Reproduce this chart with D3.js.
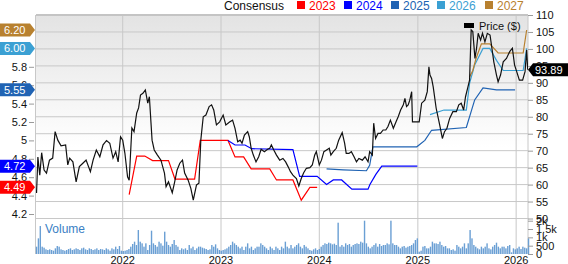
<!DOCTYPE html>
<html>
<head>
<meta charset="utf-8">
<script src="https://cdn.jsdelivr.net/npm/d3@7"></script>
<style>
  body { margin: 0; background: #fff; }
  svg { display: block; font-family: "Liberation Sans", Arial, sans-serif; }
</style>
</head>
<body>
<svg id="chart" width="568" height="264"></svg>
<script>
// ---- data ----
const years = ["2023", "2024", "2025", "2026", "2027"];

const price = [
  ["2021-02-15",57.5],["2021-02-20",68.1],["2021-02-27",62.8],["2021-03-06",69.4],["2021-03-15",64.3],
  ["2021-03-24",63.4],["2021-04-04",67.2],["2021-04-16",67.8],["2021-04-25",75.6],["2021-05-05",73.1],
  ["2021-05-17",71.4],["2021-06-03",71.7],["2021-06-11",65.8],["2021-06-18",67.8],["2021-06-30",66.7],
  ["2021-07-12",60.8],["2021-07-24",65.3],["2021-08-06",66.3],["2021-08-18",67.2],["2021-09-03",63.8],
  ["2021-09-13",67.2],["2021-09-25",70.2],["2021-10-08",68.2],["2021-10-20",71.7],["2021-11-02",73.0],
  ["2021-11-14",72.2],["2021-11-26",67.8],["2021-12-06",69.7],["2021-12-15",66.7],["2021-12-24",74.1],
  ["2022-01-01",73.1],["2022-01-09",69.3],["2022-01-19",62.3],["2022-01-25",61.3],["2022-02-04",76.7],
  ["2022-02-12",75.6],["2022-02-22",81.1],["2022-03-01",82.6],["2022-03-08",86.4],["2022-03-17",86.9],
  ["2022-03-26",87.9],["2022-04-04",84.0],["2022-04-10",85.9],["2022-04-20",73.1],["2022-04-28",70.2],
  ["2022-05-10",68.7],["2022-05-23",67.2],["2022-06-05",63.4],["2022-06-11",59.4],["2022-06-20",60.8],
  ["2022-07-04",57.6],["2022-07-12",60.4],["2022-07-22",64.3],["2022-08-01",66.3],["2022-08-11",67.2],
  ["2022-08-19",63.4],["2022-09-01",61.3],["2022-09-11",58.9],["2022-09-20",55.4],["2022-10-02",59.9],
  ["2022-10-11",60.4],["2022-10-18",73.1],["2022-10-27",80.0],["2022-11-06",80.5],["2022-11-18",83.0],
  ["2022-11-27",83.5],["2022-12-05",82.0],["2022-12-15",77.6],["2022-12-27",78.5],["2023-01-09",80.5],
  ["2023-01-19",77.6],["2023-02-03",78.5],["2023-02-13",79.0],["2023-02-22",76.6],["2023-03-04",72.6],
  ["2023-03-13",73.1],["2023-03-20",72.2],["2023-03-29",74.6],["2023-04-10",75.6],["2023-04-16",74.1],
  ["2023-04-23",70.7],["2023-05-01",68.7],["2023-05-11",66.7],["2023-05-21",68.2],["2023-05-30",70.4],
  ["2023-06-11",69.7],["2023-06-23",70.4],["2023-07-01",70.7],["2023-07-07",71.7],["2023-07-16",70.2],
  ["2023-07-26",68.7],["2023-08-07",67.2],["2023-08-19",67.7],["2023-08-29",66.7],["2023-09-07",65.3],
  ["2023-09-16",63.8],["2023-09-25",62.8],["2023-10-08",61.8],["2023-10-17",59.6],["2023-10-26",61.8],
  ["2023-11-04",63.5],["2023-11-14",64.8],["2023-11-27",65.0],["2023-12-06",65.8],["2023-12-15",68.7],
  ["2023-12-21",69.7],["2024-01-01",65.8],["2024-01-09",67.2],["2024-01-18",69.7],["2024-01-28",70.2],
  ["2024-02-07",70.7],["2024-02-13",68.7],["2024-02-22",69.7],["2024-03-04",70.7],["2024-03-13",73.1],
  ["2024-03-26",75.3],["2024-04-04",72.2],["2024-04-10",69.2],["2024-04-20",69.2],["2024-04-29",69.7],
  ["2024-05-09",68.2],["2024-05-18",66.7],["2024-05-27",67.7],["2024-06-09",67.2],["2024-06-19",68.2],
  ["2024-06-30",66.7],["2024-07-06",69.7],["2024-07-16",68.7],["2024-07-21",78.1],["2024-07-28",73.6],
  ["2024-08-06",75.1],["2024-08-15",75.1],["2024-08-25",76.1],["2024-09-04",76.1],["2024-09-12",77.1],
  ["2024-09-21",79.0],["2024-10-02",76.6],["2024-10-12",78.5],["2024-10-20",80.0],["2024-10-29",82.0],
  ["2024-11-08",83.5],["2024-11-14",85.4],["2024-11-20",83.0],["2024-11-26",83.5],["2024-12-02",84.9],
  ["2024-12-09",87.4],["2024-12-12",78.5],["2024-12-25",78.5],["2025-01-06",78.5],["2025-01-15",84.0],
  ["2025-01-27",84.9],["2025-02-05",87.4],["2025-02-11",94.7],["2025-02-15",92.3],["2025-02-21",91.3],
  ["2025-02-27",88.8],["2025-03-10",82.5],["2025-03-23",77.6],["2025-04-02",73.6],["2025-04-10",75.6],
  ["2025-04-19",76.6],["2025-04-29",79.5],["2025-05-11",81.5],["2025-05-24",81.5],["2025-06-02",83.5],
  ["2025-06-11",84.0],["2025-06-20",82.0],["2025-06-27",85.9],["2025-07-06",88.8],["2025-07-12",90.8],
  ["2025-07-18",105.6],["2025-07-24",105.1],["2025-08-01",97.2],["2025-08-07",100.2],["2025-08-13",104.6],
  ["2025-08-22",102.6],["2025-08-29",104.6],["2025-09-07",102.1],["2025-09-16",104.6],["2025-09-26",104.1],
  ["2025-10-03",100.2],["2025-10-10",96.2],["2025-10-20",92.3],["2025-10-26",90.3],["2025-11-04",92.3],
  ["2025-11-14",96.2],["2025-11-26",97.2],["2025-12-08",99.2],["2025-12-18",100.2],["2025-12-26",95.3],
  ["2026-01-03",93.3],["2026-01-13",90.8],["2026-01-25",90.8],["2026-02-03",93.3],["2026-02-09",99.7],
  ["2026-02-13",93.89]
];

const eps2023 = [
  ["2022-01-25",4.41],["2022-02-22",4.83],["2022-03-24",4.83],["2022-04-22",4.78],["2022-06-20",4.78],
  ["2022-07-14",4.58],["2022-09-25",4.58],["2022-10-16",5.00],["2023-01-27",5.00],["2023-02-22",4.82],
  ["2023-03-26",4.82],["2023-04-23",4.69],["2023-07-01",4.69],["2023-07-26",4.57],["2023-09-25",4.57],
  ["2023-10-26",4.35],["2023-11-27",4.49],["2023-12-24",4.49]
];
const eps2024 = [
  ["2023-01-27",5.00],["2023-02-22",4.95],["2023-03-31",4.95],["2023-04-25",4.91],["2023-09-25",4.90],
  ["2023-10-20",4.61],["2023-12-24",4.61],["2024-01-28",4.52],["2024-02-22",4.57],["2024-03-24",4.57],
  ["2024-05-01",4.47],["2024-06-30",4.47],["2024-07-07",4.52],["2024-07-29",4.63],["2024-08-20",4.72],
  ["2024-12-30",4.72]
];
const eps2025 = [
  ["2024-01-28",4.69],["2024-03-30",4.68],["2024-06-24",4.67],["2024-07-06",4.73],["2024-07-18",4.93],
  ["2024-12-28",4.93],["2025-01-27",5.00],["2025-02-21",5.11],["2025-06-30",5.14],["2025-07-31",5.44],
  ["2025-08-31",5.57],["2025-10-20",5.55],["2025-12-28",5.55]
];
const eps2026 = [
  ["2025-02-15",5.28],["2025-04-08",5.33],["2025-06-30",5.33],["2025-07-12",5.62],["2025-07-31",5.82],
  ["2025-08-31",6.00],["2025-09-25",6.00],["2025-10-20",5.87],["2025-11-14",5.76],["2026-01-27",5.76],
  ["2026-02-09",6.00]
];
const eps2027 = [
  ["2025-07-12",5.69],["2025-07-24",5.76],["2025-08-05",5.89],["2025-08-25",6.05],["2025-09-25",6.05],
  ["2025-10-26",5.95],["2026-01-27",5.95],["2026-02-09",6.20]
];

// weekly volume (k), starting week of 2021-02-15
const volumeStart = "2021-02-15";
const volume = [
  .44,.94,1.68,.44,.38,.28,.24,.28,.24,.20,
  .34,.48,.44,.28,.24,.20,.24,.30,.34,.24,
  .28,.34,.30,.24,.34,.38,.28,.24,.34,.30,
  .24,.28,.34,.24,.30,.28,.24,.34,.28,.20,
  .34,.28,.44,.30,.48,.20,.18,.20,.24,.30,
  .44,.60,.74,.54,1.44,.74,.64,.44,.64,.24,
  .54,1.40,.64,.54,.44,.74,.64,.50,1.34,.74,
  .54,.44,.60,.84,.54,.44,.24,.34,.28,.34,
  .24,.54,.34,.44,.24,.34,.44,.44,.38,.34,
  .30,.24,.28,.54,.44,.58,.34,.24,.20,.24,
  .28,.34,.44,.54,.74,.64,.54,.44,.34,.44,
  .24,.44,.64,.34,.44,.24,.34,.44,.44,.64,
  .54,.44,.34,.24,.44,.34,.24,.44,.34,.24,
  .44,.34,.74,.44,.34,.54,.34,.44,.54,.64,
  .44,.34,.54,.44,.34,.24,.20,.28,.34,.24,
  .30,.44,.54,.64,.60,.68,.64,.58,.62,.54,
  1.88,.44,.54,.44,.64,.54,.60,.44,.54,.60,
  .64,.60,.74,.68,2.00,.64,.44,.34,.44,.54,
  .64,.44,.60,.48,.54,.54,.64,.58,2.00,.64,
  .54,.54,.44,.34,.44,.48,.38,.44,.48,.54,
  .64,.84,.94,.14,.20,.44,.48,.34,.34,.44,
  .74,.64,.64,.60,.74,.54,.44,.48,.34,.34,
  .24,.28,.20,.54,.44,.34,.44,.64,.34,.64,
  1.44,.94,.54,.44,.34,.28,.44,.34,.44,.64,
  .34,.28,.44,.54,.68,.44,.34,.44,.44,.34,
  .48,.54,.10,.34,.28,.34,.44,.30,.44,.38,
  .34,.94
];

// 6.0 and 6.2 sit under the consensus flags, so they carry no label
const epsTicks = [4.2, 4.4, 4.6, 4.8, 5.0, 5.2, 5.4, 5.6, 5.8];
const priceTicks = [50, 55, 60, 65, 70, 75, 80, 85, 90, 95, 100, 105, 110];
const volumeTicks = [0, 0.5, 1, 1.5, 2];

// ---- layout ----
const LEFT = 36, RIGHT = 528, TOP = 15, MAIN_BOTTOM = 218.5, VOL_BOTTOM = 254;
const COLORS = { "2023": "#ff0000", "2024": "#0000ff", "2025": "#2063b3", "2026": "#3ba0d3", "2027": "#b8812f" };
const parse = d3.timeParse("%Y-%m-%d");

const svg = d3.select("#chart");

const x = d3.scaleTime()
  .domain([parse("2021-02-13"), parse("2026-02-14")])
  .range([LEFT, RIGHT]);
const yPrice = d3.scaleLinear().domain([50, 110]).range([MAIN_BOTTOM, TOP]);
const yEps = d3.scaleLinear().domain([4.2, 6.2]).range([214, 30]);
const yVol = d3.scaleLinear().domain([0, 2]).range([VOL_BOTTOM, 220.7]);

const defs = svg.append("defs");
const grad = defs.append("linearGradient").attr("id", "bg").attr("x1", 0).attr("y1", 0).attr("x2", 0).attr("y2", 1);
grad.append("stop").attr("offset", "0%").attr("stop-color", "#e3e3e3");
grad.append("stop").attr("offset", "65%").attr("stop-color", "#ffffff");
defs.append("clipPath").attr("id", "clip")
  .append("rect").attr("x", LEFT).attr("y", TOP).attr("width", RIGHT - LEFT).attr("height", MAIN_BOTTOM - TOP);

// panels
svg.append("rect").attr("x", LEFT).attr("y", TOP).attr("width", RIGHT - LEFT).attr("height", MAIN_BOTTOM - TOP)
  .attr("fill", "url(#bg)");

// grid
svg.append("g").selectAll("line").data(priceTicks.slice(1, -1)).join("line")
  .attr("x1", LEFT).attr("x2", RIGHT)
  .attr("y1", d => yPrice(d)).attr("y2", d => yPrice(d))
  .attr("stroke", "#c8c8c8").attr("stroke-width", 1);

const yearTicks = x.ticks(d3.timeYear.every(1));
svg.append("g").selectAll("line").data(yearTicks).join("line")
  .attr("x1", d => x(d)).attr("x2", d => x(d))
  .attr("y1", TOP).attr("y2", VOL_BOTTOM)
  .attr("stroke", "#c8c8c8").attr("stroke-width", 1);

// borders
svg.append("line").attr("x1", LEFT).attr("x2", RIGHT).attr("y1", TOP).attr("y2", TOP)
  .attr("stroke", "#c4c4c4").attr("stroke-width", 2);
svg.append("line").attr("x1", LEFT).attr("x2", RIGHT).attr("y1", MAIN_BOTTOM).attr("y2", MAIN_BOTTOM)
  .attr("stroke", "#c8c8c8").attr("stroke-width", 1);
svg.append("line").attr("x1", LEFT - 0.5).attr("x2", LEFT - 0.5).attr("y1", TOP).attr("y2", VOL_BOTTOM)
  .attr("stroke", "#c8c8c8");
svg.append("line").attr("x1", RIGHT).attr("x2", RIGHT).attr("y1", TOP).attr("y2", VOL_BOTTOM)
  .attr("stroke", "#c8c8c8");

// volume bars
const vStart = parse(volumeStart);
svg.append("g").selectAll("rect").data(volume).join("rect")
  .attr("x", (d, i) => x(d3.timeDay.offset(vStart, 7 * i)) - 0.7)
  .attr("width", 1.4)
  .attr("y", d => yVol(d))
  .attr("height", d => VOL_BOTTOM - yVol(d))
  .attr("fill", "#6a9fd4");

svg.append("text").attr("x", 45).attr("y", 233).attr("fill", "#3a80c4")
  .attr("font-size", 12).text("Volume");

// lines
const plot = svg.append("g").attr("clip-path", "url(#clip)");
const epsLine = d3.line().x(d => x(parse(d[0]))).y(d => yEps(d[1]));
const epsSeries = { "2023": eps2023, "2024": eps2024, "2025": eps2025, "2026": eps2026, "2027": eps2027 };
years.forEach(yr => {
  plot.append("path").datum(epsSeries[yr])
    .attr("d", epsLine)
    .attr("fill", "none").attr("stroke", COLORS[yr]).attr("stroke-width", 1.2);
});

plot.append("path").datum(price)
  .attr("d", d3.line().x(d => x(parse(d[0]))).y(d => yPrice(d[1])))
  .attr("fill", "none").attr("stroke", "#111").attr("stroke-width", 1.2);

// axes
const gl = svg.append("g").attr("transform", `translate(${LEFT - 2},0)`)
  .call(d3.axisLeft(yEps).tickValues(epsTicks).tickSize(5).tickPadding(2)
    .tickFormat(d => String(+d.toFixed(1))));
const gr = svg.append("g").attr("transform", `translate(${RIGHT},0)`)
  .call(d3.axisRight(yPrice).tickValues(priceTicks).tickSize(5).tickPadding(3));
const gv = svg.append("g").attr("transform", `translate(${RIGHT},0)`)
  .call(d3.axisRight(yVol).tickValues(volumeTicks).tickSize(5).tickPadding(3)
    .tickFormat(d => d === 0 ? "0" : d < 1 ? String(d * 1000) : d + "k"));
[gl, gr, gv].forEach(g => {
  g.select(".domain").remove();
  g.selectAll(".tick line").attr("stroke", "#9a9a9a");
  g.selectAll(".tick text").attr("fill", "#111").attr("font-size", 11)
    .attr("font-family", "'Liberation Sans', Arial, sans-serif");
});

svg.append("g").selectAll("text").data(yearTicks).join("text")
  .attr("x", d => x(d)).attr("y", 263.5).attr("text-anchor", "middle")
  .attr("font-size", 11).attr("fill", "#111")
  .text(d => d.getFullYear());

// flags on the left for the latest consensus values
const flags = svg.append("g");
years.forEach(yr => {
  const s = epsSeries[yr];
  const v = s[s.length - 1][1];
  const y = yEps(v);
  flags.append("path")
    .attr("d", `M0,${y - 6.5}H30L35,${y}L30,${y + 6.5}H0Z`)
    .attr("fill", COLORS[yr]);
  flags.append("text").attr("x", 4).attr("y", y + 4)
    .attr("fill", "#fff").attr("font-size", 11).text(v.toFixed(2));
});

// last price flag
const last = price[price.length - 1][1];
const ly = yPrice(last);
svg.append("path").attr("d", `M${RIGHT},${ly}L${RIGHT + 5},${ly - 6.5}H568V${ly + 6.5}H${RIGHT + 5}Z`)
  .attr("fill", "#000");
svg.append("text").attr("x", RIGHT + 7).attr("y", ly + 4)
  .attr("fill", "#fff").attr("font-size", 11).text(last.toFixed(2));

// price legend
svg.append("rect").attr("x", 464).attr("y", 23).attr("width", 10).attr("height", 5).attr("fill", "#000");
svg.append("text").attr("x", 479).attr("y", 29.5).attr("font-size", 11).attr("fill", "#111").text("Price ($)");

// consensus legend
const legend = svg.append("g");
legend.append("text").attr("x", 224).attr("y", 9.5).attr("font-size", 12).attr("fill", "#111").text("Consensus");
const legendX = [297, 344, 391, 437, 485];
years.forEach((yr, i) => {
  legend.append("rect").attr("x", legendX[i]).attr("y", 1).attr("width", 8).attr("height", 8)
    .attr("fill", COLORS[yr]);
  legend.append("text").attr("x", legendX[i] + 12).attr("y", 9.5).attr("font-size", 12)
    .attr("fill", COLORS[yr]).text(yr);
});
</script>
</body>
</html>
